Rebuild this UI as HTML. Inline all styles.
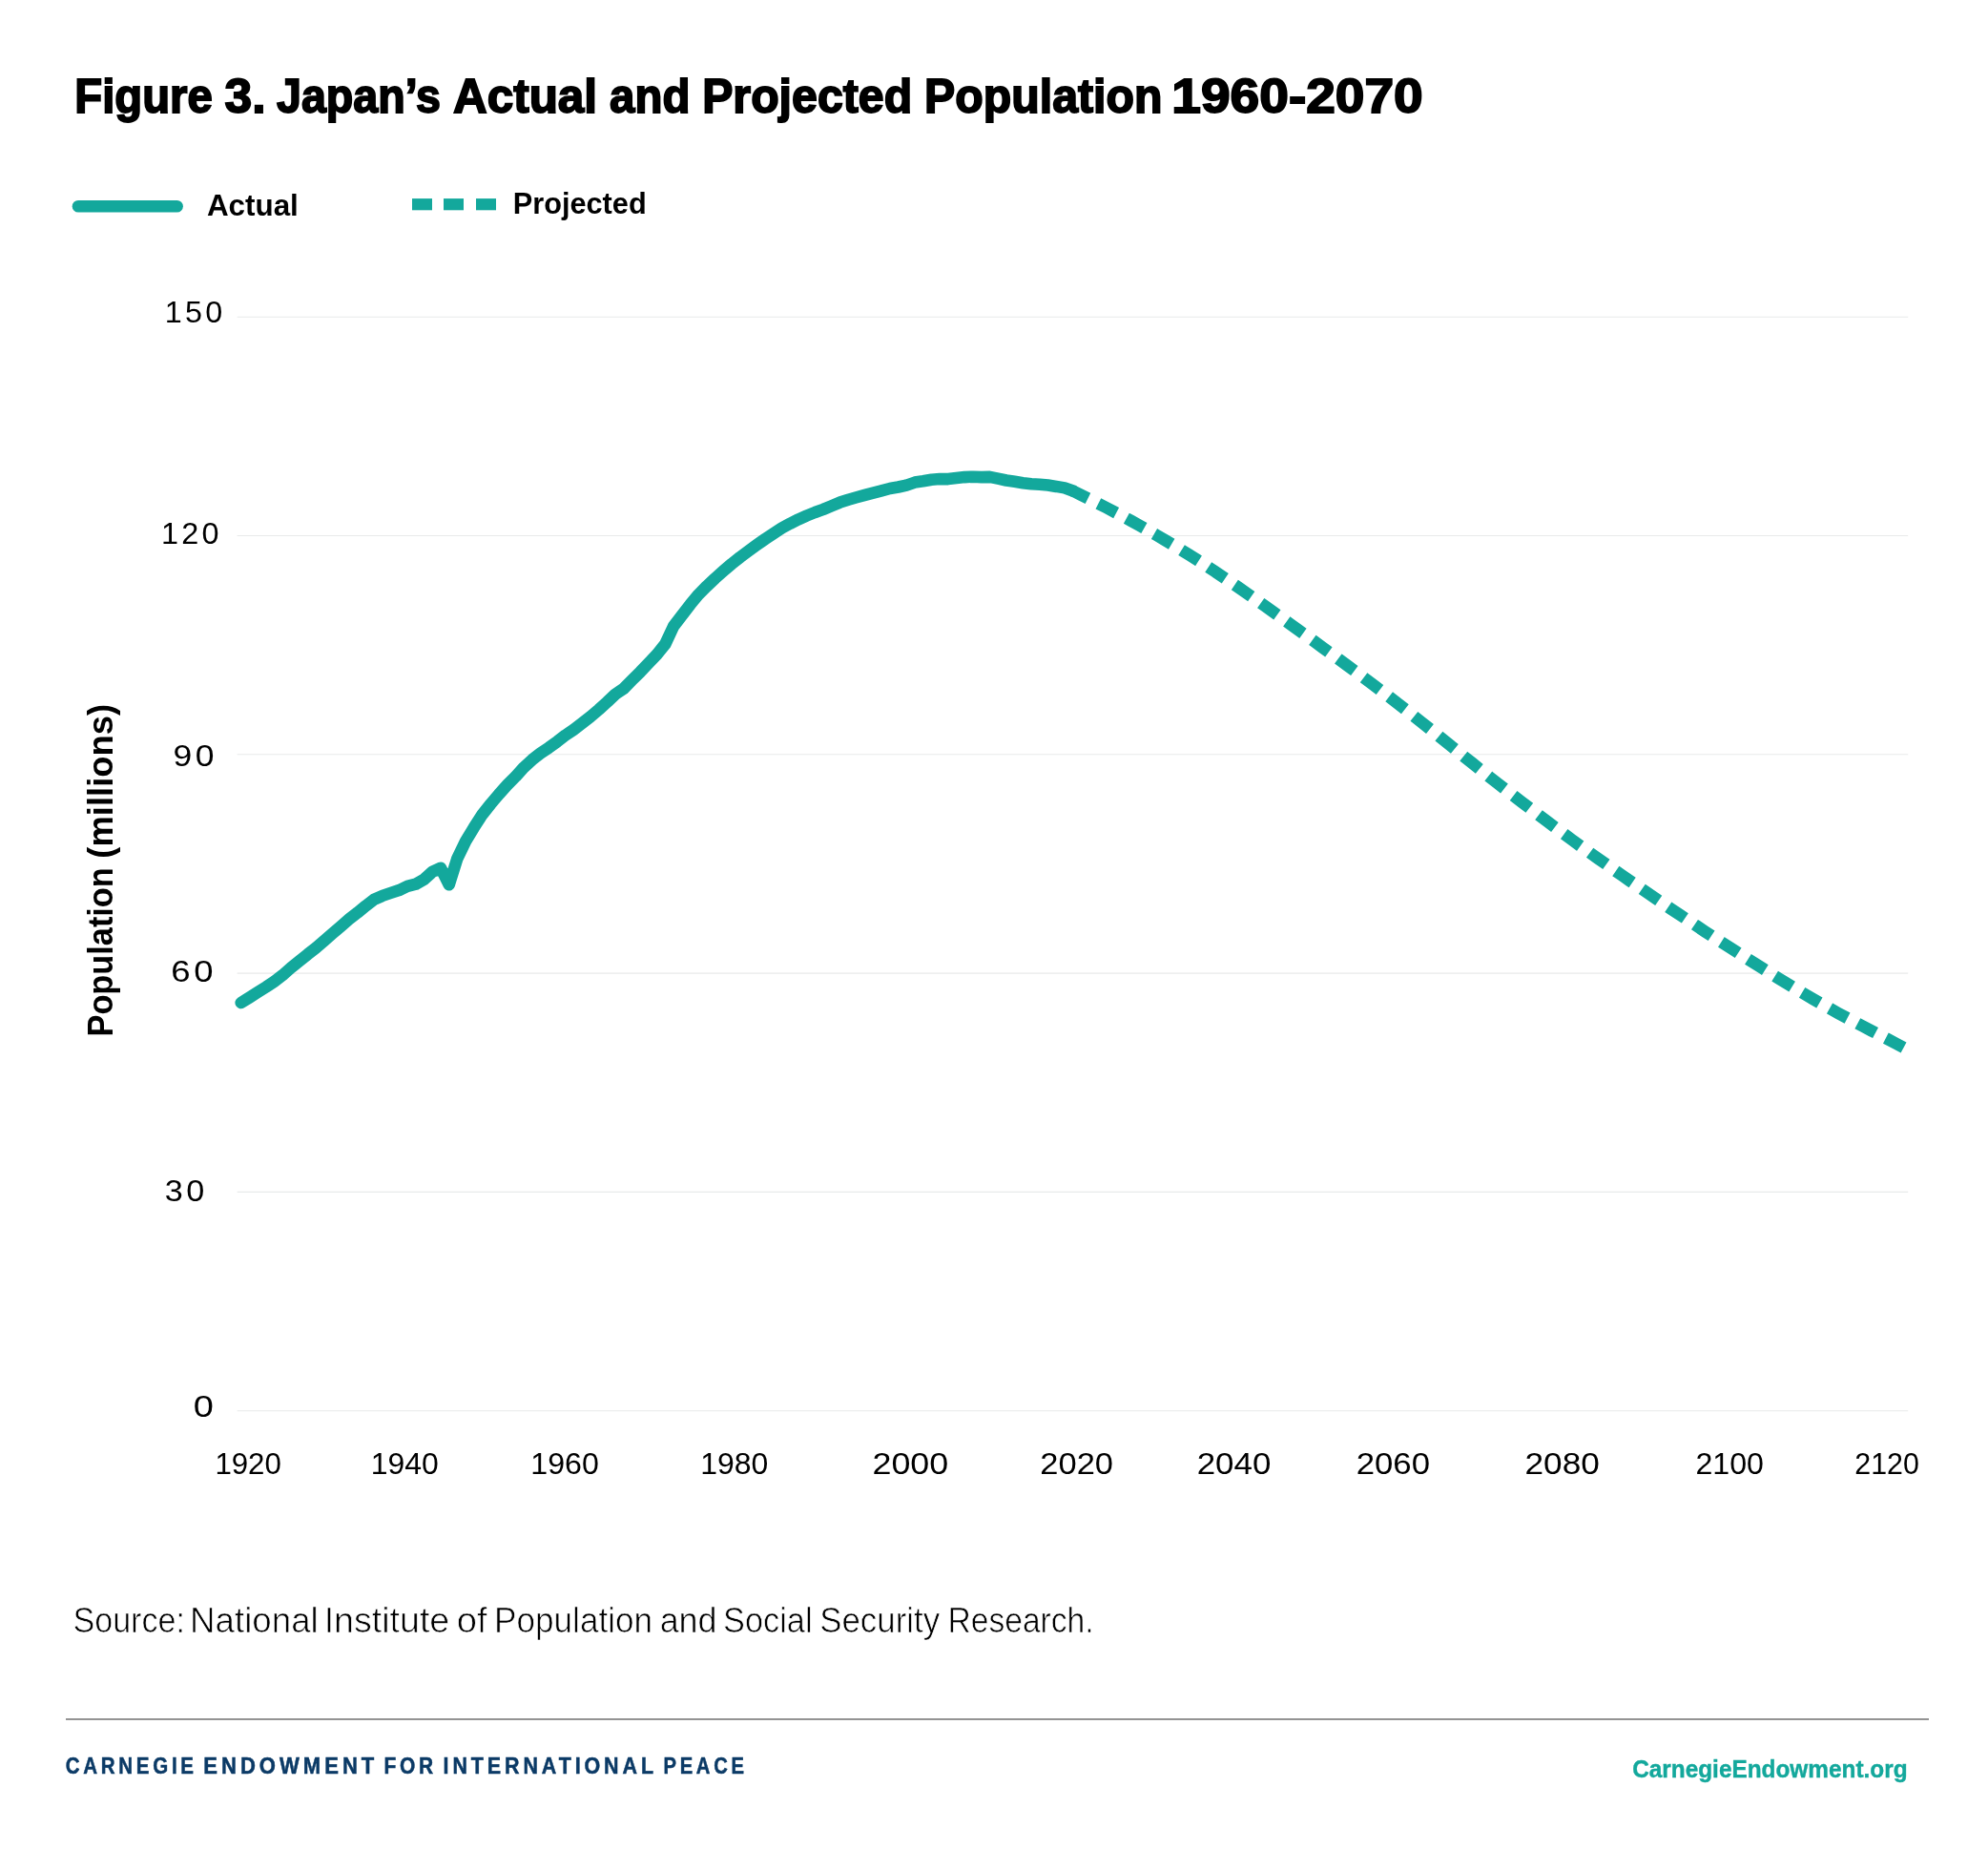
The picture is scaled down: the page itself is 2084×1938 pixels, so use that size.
<!DOCTYPE html>
<html lang="en">
<head>
<meta charset="utf-8">
<title>Figure 3. Japan's Actual and Projected Population 1960-2070</title>
<style>
html,body{margin:0;padding:0;background:#fff;}
body{width:2084px;height:1938px;overflow:hidden;font-family:"Liberation Sans",sans-serif;}
svg{display:block;will-change:transform;font-family:"Liberation Sans",sans-serif;}
</style>
</head>
<body>
<svg width="2084" height="1938" viewBox="0 0 2084 1938">
<rect width="2084" height="1938" fill="#ffffff"/>
<line x1="248.6" x2="2000.2" y1="1478.7" y2="1478.7" stroke="#e8eaea" stroke-width="1.1"/>
<line x1="248.6" x2="2000.2" y1="1249.4" y2="1249.4" stroke="#e8eaea" stroke-width="1.1"/>
<line x1="248.6" x2="2000.2" y1="1020.1" y2="1020.1" stroke="#e8eaea" stroke-width="1.1"/>
<line x1="248.6" x2="2000.2" y1="790.8" y2="790.8" stroke="#e8eaea" stroke-width="1.1"/>
<line x1="248.6" x2="2000.2" y1="561.5" y2="561.5" stroke="#e8eaea" stroke-width="1.1"/>
<line x1="248.6" x2="2000.2" y1="332.2" y2="332.2" stroke="#e8eaea" stroke-width="1.1"/>
<text x="78.25" y="118.1" font-size="49.4" font-weight="700" fill="#000" stroke="#000" stroke-width="1.8" textLength="144.52" lengthAdjust="spacingAndGlyphs">Figure</text>
<text x="235.62" y="118.1" font-size="49.4" font-weight="700" fill="#000" stroke="#000" stroke-width="1.8" textLength="43.01" lengthAdjust="spacingAndGlyphs">3.</text>
<text x="290.01" y="118.1" font-size="49.4" font-weight="700" fill="#000" stroke="#000" stroke-width="1.8" textLength="171.90" lengthAdjust="spacingAndGlyphs">Japan’s</text>
<text x="474.99" y="118.1" font-size="49.4" font-weight="700" fill="#000" stroke="#000" stroke-width="1.8" textLength="151.07" lengthAdjust="spacingAndGlyphs">Actual</text>
<text x="639.07" y="118.1" font-size="49.4" font-weight="700" fill="#000" stroke="#000" stroke-width="1.8" textLength="84.30" lengthAdjust="spacingAndGlyphs">and</text>
<text x="736.15" y="118.1" font-size="49.4" font-weight="700" fill="#000" stroke="#000" stroke-width="1.8" textLength="220.01" lengthAdjust="spacingAndGlyphs">Projected</text>
<text x="969.01" y="118.1" font-size="49.4" font-weight="700" fill="#000" stroke="#000" stroke-width="1.8" textLength="249.52" lengthAdjust="spacingAndGlyphs">Population</text>
<text x="1228.35" y="118.1" font-size="49.4" font-weight="700" fill="#000" stroke="#000" stroke-width="1.8" textLength="263.42" lengthAdjust="spacingAndGlyphs">1960-2070</text>
<text x="216.94" y="226.1" font-size="32" font-weight="700" fill="#000" textLength="95.90" lengthAdjust="spacingAndGlyphs">Actual</text>
<text x="537.71" y="223.7" font-size="32" font-weight="700" fill="#000" textLength="139.96" lengthAdjust="spacingAndGlyphs">Projected</text>
<text x="172.79" y="338.0" font-size="32" font-weight="400" fill="#000" letter-spacing="3.2" textLength="63.61" lengthAdjust="spacingAndGlyphs">150</text>
<text x="168.98" y="570.2" font-size="32" font-weight="400" fill="#000" letter-spacing="3.2" textLength="63.76" lengthAdjust="spacingAndGlyphs">120</text>
<text x="181.54" y="802.5" font-size="32" font-weight="400" fill="#000" letter-spacing="3.2" textLength="46.62" lengthAdjust="spacingAndGlyphs">90</text>
<text x="179.19" y="1028.6000000000001" font-size="32" font-weight="400" fill="#000" letter-spacing="3.2" textLength="47.89" lengthAdjust="spacingAndGlyphs">60</text>
<text x="172.76" y="1258.8" font-size="32" font-weight="400" fill="#000" letter-spacing="3.2" textLength="44.96" lengthAdjust="spacingAndGlyphs">30</text>
<text x="202.72" y="1485.2" font-size="32" font-weight="400" fill="#000" letter-spacing="3.2" textLength="24.92" lengthAdjust="spacingAndGlyphs">0</text>
<text x="225.39" y="1544.9" font-size="32" font-weight="400" fill="#000" textLength="69.49" lengthAdjust="spacingAndGlyphs">1920</text>
<text x="388.75" y="1544.9" font-size="32" font-weight="400" fill="#000" textLength="71.08" lengthAdjust="spacingAndGlyphs">1940</text>
<text x="556.39" y="1544.9" font-size="32" font-weight="400" fill="#000" textLength="71.50" lengthAdjust="spacingAndGlyphs">1960</text>
<text x="734.23" y="1544.9" font-size="32" font-weight="400" fill="#000" textLength="71.09" lengthAdjust="spacingAndGlyphs">1980</text>
<text x="914.45" y="1544.9" font-size="32" font-weight="400" fill="#000" textLength="79.84" lengthAdjust="spacingAndGlyphs">2000</text>
<text x="1090.26" y="1544.9" font-size="32" font-weight="400" fill="#000" textLength="76.76" lengthAdjust="spacingAndGlyphs">2020</text>
<text x="1254.67" y="1544.9" font-size="32" font-weight="400" fill="#000" textLength="77.72" lengthAdjust="spacingAndGlyphs">2040</text>
<text x="1421.72" y="1544.9" font-size="32" font-weight="400" fill="#000" textLength="77.30" lengthAdjust="spacingAndGlyphs">2060</text>
<text x="1598.49" y="1544.9" font-size="32" font-weight="400" fill="#000" textLength="78.38" lengthAdjust="spacingAndGlyphs">2080</text>
<text x="1777.48" y="1544.9" font-size="32" font-weight="400" fill="#000" textLength="71.48" lengthAdjust="spacingAndGlyphs">2100</text>
<text x="1944.29" y="1544.9" font-size="32" font-weight="400" fill="#000" textLength="67.57" lengthAdjust="spacingAndGlyphs">2120</text>
<text x="76.41" y="1711.25" font-size="36.9" font-weight="400" fill="#000" stroke="#fff" stroke-width="0.7" textLength="117.57" lengthAdjust="spacingAndGlyphs">Source:</text>
<text x="199.10" y="1711.25" font-size="36.9" font-weight="400" fill="#000" stroke="#fff" stroke-width="0.7" textLength="134.63" lengthAdjust="spacingAndGlyphs">National</text>
<text x="339.65" y="1711.25" font-size="36.9" font-weight="400" fill="#000" stroke="#fff" stroke-width="0.7" textLength="131.59" lengthAdjust="spacingAndGlyphs">Institute</text>
<text x="478.82" y="1711.25" font-size="36.9" font-weight="400" fill="#000" stroke="#fff" stroke-width="0.7" textLength="31.88" lengthAdjust="spacingAndGlyphs">of</text>
<text x="518.08" y="1711.25" font-size="36.9" font-weight="400" fill="#000" stroke="#fff" stroke-width="0.7" textLength="165.98" lengthAdjust="spacingAndGlyphs">Population</text>
<text x="691.65" y="1711.25" font-size="36.9" font-weight="400" fill="#000" stroke="#fff" stroke-width="0.7" textLength="59.92" lengthAdjust="spacingAndGlyphs">and</text>
<text x="758.06" y="1711.25" font-size="36.9" font-weight="400" fill="#000" stroke="#fff" stroke-width="0.7" textLength="93.51" lengthAdjust="spacingAndGlyphs">Social</text>
<text x="859.27" y="1711.25" font-size="36.9" font-weight="400" fill="#000" stroke="#fff" stroke-width="0.7" textLength="125.82" lengthAdjust="spacingAndGlyphs">Security</text>
<text x="993.46" y="1711.25" font-size="36.9" font-weight="400" fill="#000" stroke="#fff" stroke-width="0.7" textLength="153.20" lengthAdjust="spacingAndGlyphs">Research.</text>
<text x="68.63" y="1858.9" font-size="24.2" font-weight="700" fill="#0b3a66" stroke="#0b3a66" stroke-width="0.5" letter-spacing="4.4" textLength="138.15" lengthAdjust="spacingAndGlyphs">CARNEGIE</text>
<text x="213.31" y="1858.9" font-size="24.2" font-weight="700" fill="#0b3a66" stroke="#0b3a66" stroke-width="0.5" letter-spacing="4.4" textLength="183.00" lengthAdjust="spacingAndGlyphs">ENDOWMENT</text>
<text x="402.42" y="1858.9" font-size="24.2" font-weight="700" fill="#0b3a66" stroke="#0b3a66" stroke-width="0.5" letter-spacing="4.4" textLength="55.65" lengthAdjust="spacingAndGlyphs">FOR</text>
<text x="464.62" y="1858.9" font-size="24.2" font-weight="700" fill="#0b3a66" stroke="#0b3a66" stroke-width="0.5" letter-spacing="4.4" textLength="224.28" lengthAdjust="spacingAndGlyphs">INTERNATIONAL</text>
<text x="695.53" y="1858.9" font-size="24.2" font-weight="700" fill="#0b3a66" stroke="#0b3a66" stroke-width="0.5" letter-spacing="4.4" textLength="88.07" lengthAdjust="spacingAndGlyphs">PEACE</text>
<text x="1711.15" y="1862.6" font-size="25" font-weight="700" fill="#13a89c" stroke="#13a89c" stroke-width="0.4" textLength="288.46" lengthAdjust="spacingAndGlyphs">CarnegieEndowment.org</text>
<g transform="translate(118.2,1085) rotate(-90)"><text x="-1.50" y="0" font-size="37" font-weight="700" fill="#000" textLength="177.27" lengthAdjust="spacingAndGlyphs">Population</text><text x="185.37" y="0" font-size="37" font-weight="700" fill="#000" textLength="161.79" lengthAdjust="spacingAndGlyphs">(millions)</text></g>
<line x1="82" x2="185.6" y1="216.3" y2="216.3" stroke="#13a89c" stroke-width="12.6" stroke-linecap="round"/>
<rect x="432" y="208.1" width="21" height="12.2" fill="#13a89c"/>
<rect x="465" y="208.1" width="21" height="12.2" fill="#13a89c"/>
<rect x="499" y="208.1" width="21" height="12.2" fill="#13a89c"/>
<path d="M252.7,1051.0 L261.4,1045.6 L270.1,1040.0 L278.9,1034.5 L287.6,1028.7 L296.3,1022.1 L305.0,1014.4 L313.7,1007.4 L322.5,1000.3 L331.2,993.6 L339.9,986.1 L348.6,978.4 L357.3,970.9 L366.1,963.3 L374.8,956.6 L383.5,949.4 L392.2,942.8 L400.9,938.9 L409.7,935.9 L418.4,933.1 L427.1,928.9 L435.8,926.7 L444.5,921.7 L453.3,913.8 L462.0,909.8 L470.7,927.3 L479.4,899.7 L488.1,881.7 L496.9,867.2 L505.6,853.7 L514.3,842.8 L523.0,832.5 L531.7,822.8 L540.5,813.9 L549.2,804.3 L557.9,796.3 L566.6,789.5 L575.3,783.7 L584.1,777.3 L592.8,770.6 L601.5,764.7 L610.2,758.0 L618.9,751.2 L627.7,743.7 L636.4,735.9 L645.1,727.6 L653.8,721.7 L662.5,712.9 L671.3,704.2 L680.0,695.0 L688.7,685.9 L697.4,675.0 L706.1,656.3 L714.9,644.8 L723.6,633.6 L732.3,623.1 L741.0,614.3 L749.7,606.1 L758.5,598.3 L767.2,590.9 L775.9,584.0 L784.6,577.5 L793.3,571.2 L802.1,565.0 L810.8,559.2 L819.5,553.5 L828.2,548.8 L836.9,544.4 L845.7,540.5 L854.4,537.0 L863.1,533.9 L871.8,530.2 L880.5,526.6 L889.3,523.8 L898.0,521.3 L906.7,518.9 L915.4,516.7 L924.1,514.4 L932.9,512.0 L941.6,510.5 L950.3,508.6 L959.0,505.6 L967.7,504.3 L976.5,502.7 L985.2,502.0 L993.9,502.1 L1002.6,501.1 L1011.3,500.1 L1020.1,499.7 L1028.8,500.1 L1037.5,499.9 L1046.2,501.6 L1054.9,503.5 L1063.7,504.8 L1072.4,506.2 L1081.1,507.3 L1089.8,507.7 L1098.5,508.6 L1107.3,509.9 L1116.0,511.4 L1124.7,514.5" fill="none" stroke="#13a89c" stroke-width="12.6" stroke-linecap="round" stroke-linejoin="round"/>
<path d="M1124.7,514.5 L1133.4,518.9 L1142.1,523.2 L1150.9,527.6 L1159.6,532.0 L1168.3,536.6 L1177.0,541.2 L1185.7,545.9 L1194.5,550.7 L1203.2,555.6 L1211.9,560.6 L1220.6,565.7 L1229.3,570.9 L1238.1,576.3 L1246.8,581.7 L1255.5,587.2 L1264.2,592.8 L1272.9,598.5 L1281.7,604.4 L1290.4,610.3 L1299.1,616.2 L1307.8,622.3 L1316.5,628.4 L1325.3,634.6 L1334.0,640.9 L1342.7,647.1 L1351.4,653.3 L1360.1,659.6 L1368.9,665.9 L1377.6,672.2 L1386.3,678.6 L1395.0,684.9 L1403.7,691.2 L1412.5,697.6 L1421.2,704.0 L1429.9,710.5 L1438.6,717.0 L1447.3,723.6 L1456.1,730.3 L1464.8,737.0 L1473.5,743.8 L1482.2,750.7 L1490.9,757.6 L1499.7,764.6 L1508.4,771.7 L1517.1,778.7 L1525.8,785.7 L1534.5,792.8 L1543.3,799.8 L1552.0,806.8 L1560.7,813.8 L1569.4,820.6 L1578.1,827.4 L1586.9,834.2 L1595.6,840.9 L1604.3,847.6 L1613.0,854.2 L1621.7,860.8 L1630.5,867.4 L1639.2,873.8 L1647.9,880.2 L1656.6,886.6 L1665.3,892.8 L1674.1,899.1 L1682.8,905.2 L1691.5,911.4 L1700.2,917.4 L1708.9,923.5 L1717.7,929.5 L1726.4,935.4 L1735.1,941.4 L1743.8,947.3 L1752.5,953.2 L1761.3,959.0 L1770.0,964.8 L1778.7,970.6 L1787.4,976.4 L1796.1,982.1 L1804.9,987.7 L1813.6,993.3 L1822.3,998.9 L1831.0,1004.4 L1839.7,1009.9 L1848.5,1015.4 L1857.2,1020.9 L1865.9,1026.3 L1874.6,1031.6 L1883.3,1036.9 L1892.1,1042.1 L1900.8,1047.2 L1909.5,1052.2 L1918.2,1057.1 L1926.9,1061.9 L1935.7,1066.6 L1944.4,1071.2 L1953.1,1075.8 L1961.8,1080.3 L1970.5,1084.9 L1979.3,1089.4 L1988.0,1094.0 L1996.7,1098.6" fill="none" stroke="#13a89c" stroke-width="12.6" stroke-dasharray="21.15 12.163" stroke-dashoffset="3.5" stroke-linejoin="round"/>
<line x1="69" x2="2022" y1="1802" y2="1802" stroke="#707070" stroke-width="1.7"/>
</svg>
</body>
</html>
